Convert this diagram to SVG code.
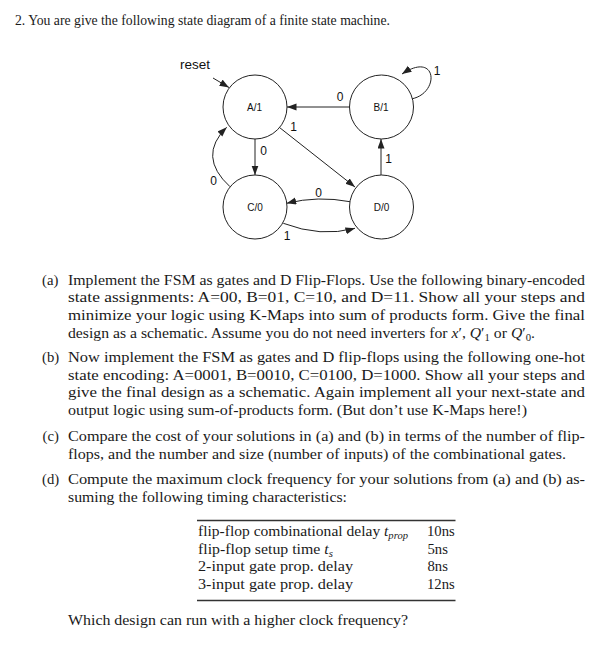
<svg xmlns="http://www.w3.org/2000/svg" width="611" height="651" viewBox="0 0 611 651">
<defs>
<marker id="arr" markerUnits="userSpaceOnUse" markerWidth="10" markerHeight="8" refX="9.5" refY="3.5" orient="auto">
<path d="M0,0 L9.5,3.5 L0,7 z" fill="#222"/>
</marker>
<style>
.st{fill:#fff;stroke:#222;stroke-width:1}
.sl{font-family:"Liberation Sans",Arial,sans-serif;font-size:10px;fill:#111;text-anchor:middle}
.el{font-family:"Liberation Sans",Arial,sans-serif;font-size:12px;fill:#111;text-anchor:middle}
.ed{fill:none;stroke:#222;stroke-width:1;marker-end:url(#arr)}
.tx{font-family:"Liberation Serif","Times New Roman",serif;font-size:14.7px;fill:#1a1a1a}
.it{font-style:italic}
.rule{stroke:#333;stroke-width:1.5}
</style>
</defs>
<rect width="611" height="651" fill="#fff"/>

<text class="tx" x="15" y="24.5" textLength="375" lengthAdjust="spacingAndGlyphs">2. You are give the following state diagram of a finite state machine.</text>

<!-- diagram -->
<text x="180" y="69" font-family="'Liberation Sans',Arial,sans-serif" font-size="13.5" fill="#111">reset</text>
<g id="edges">
<line class="ed" x1="213" y1="78" x2="229" y2="87.5"/>
<line class="ed" x1="350" y1="107" x2="287" y2="107"/>
<line class="ed" x1="279.5" y1="127.5" x2="355" y2="187"/>
<line class="ed" x1="255" y1="139" x2="255" y2="175"/>
<line class="ed" x1="381" y1="175.5" x2="381" y2="139"/>
<path class="ed" d="M350,201.7 Q318,195.5 286.7,203.3"/>
<path class="ed" d="M283.3,223.3 Q320.8,237.6 355,228.3"/>
<path class="ed" d="M230,186.7 Q197,156.4 226.7,127.3"/>
<path class="ed" d="M411,99 C440,94 438,50 402,74"/>
</g>
<g id="A"><circle class="st" cx="255" cy="107" r="32"/><text class="sl" x="254.5" y="110.5">A/1</text></g>
<g id="B"><circle class="st" cx="381.5" cy="107" r="32"/><text class="sl" x="381" y="110.5">B/1</text></g>
<g id="C"><circle class="st" cx="255" cy="207" r="32"/><text class="sl" x="255" y="210.5">C/0</text></g>
<g id="D"><circle class="st" cx="381.5" cy="207" r="32"/><text class="sl" x="381.5" y="210.5">D/0</text></g>
<g id="edge-labels">
<text class="el" x="340" y="101">0</text>
<text class="el" x="293.5" y="130.5">1</text>
<text class="el" x="263.5" y="154.5">0</text>
<text class="el" x="388.5" y="162.5">1</text>
<text class="el" x="213.5" y="184.5">0</text>
<text class="el" x="318.5" y="197">0</text>
<text class="el" x="287" y="239.5">1</text>
<text class="el" x="437" y="75">1</text>
</g>

<!-- (a) -->
<text class="tx" x="42" y="284.5">(a)</text>
<text class="tx" x="68" y="284.5" textLength="517" lengthAdjust="spacingAndGlyphs">Implement the FSM as gates and D Flip-Flops. Use the following binary-encoded</text>
<text class="tx" x="68" y="302.2" textLength="517" lengthAdjust="spacingAndGlyphs">state assignments: A=00, B=01, C=10, and D=11. Show all your steps and</text>
<text class="tx" x="68" y="320" textLength="517" lengthAdjust="spacingAndGlyphs">minimize your logic using K-Maps into sum of products form. Give the final</text>
<text class="tx" x="68" y="337.7" textLength="467" lengthAdjust="spacingAndGlyphs">design as a schematic. Assume you do not need inverters for <tspan class="it">x</tspan>′, <tspan class="it">Q</tspan>′<tspan font-size="10" dy="3">1</tspan><tspan dy="-3"> or </tspan><tspan class="it">Q</tspan>′<tspan font-size="10" dy="3">0</tspan><tspan dy="-3">.</tspan></text>

<!-- (b) -->
<text class="tx" x="42" y="362">(b)</text>
<text class="tx" x="68" y="362" textLength="517" lengthAdjust="spacingAndGlyphs">Now implement the FSM as gates and D flip-flops using the following one-hot</text>
<text class="tx" x="68" y="379.7" textLength="517" lengthAdjust="spacingAndGlyphs">state encoding: A=0001, B=0010, C=0100, D=1000. Show all your steps and</text>
<text class="tx" x="68" y="397.4" textLength="517" lengthAdjust="spacingAndGlyphs">give the final design as a schematic. Again implement all your next-state and</text>
<text class="tx" x="68" y="415.1" textLength="459" lengthAdjust="spacingAndGlyphs">output logic using sum-of-products form. (But don’t use K-Maps here!)</text>

<!-- (c) -->
<text class="tx" x="42.5" y="441">(c)</text>
<text class="tx" x="68" y="441" textLength="517" lengthAdjust="spacingAndGlyphs">Compare the cost of your solutions in (a) and (b) in terms of the number of flip-</text>
<text class="tx" x="68" y="458.7" textLength="498" lengthAdjust="spacingAndGlyphs">flops, and the number and size (number of inputs) of the combinational gates.</text>

<!-- (d) -->
<text class="tx" x="42" y="484">(d)</text>
<text class="tx" x="68" y="484" textLength="517" lengthAdjust="spacingAndGlyphs">Compute the maximum clock frequency for your solutions from (a) and (b) as-</text>
<text class="tx" x="68" y="501.7" textLength="279" lengthAdjust="spacingAndGlyphs">suming the following timing characteristics:</text>

<!-- table -->
<line class="rule" x1="197" y1="520.5" x2="455.5" y2="520.5"/>
<text class="tx" x="198" y="536" textLength="210" lengthAdjust="spacingAndGlyphs">flip-flop combinational delay <tspan class="it">t</tspan><tspan class="it" font-size="10" dy="3">prop</tspan></text>
<text class="tx" x="427" y="536">10ns</text>
<text class="tx" x="198" y="553.7" textLength="135" lengthAdjust="spacingAndGlyphs">flip-flop setup time <tspan class="it">t</tspan><tspan class="it" font-size="10" dy="3">s</tspan></text>
<text class="tx" x="427.5" y="553.7">5ns</text>
<text class="tx" x="198" y="571.4" textLength="155" lengthAdjust="spacingAndGlyphs">2-input gate prop. delay</text>
<text class="tx" x="427.5" y="571.4">8ns</text>
<text class="tx" x="198" y="589" textLength="155" lengthAdjust="spacingAndGlyphs">3-input gate prop. delay</text>
<text class="tx" x="427" y="589">12ns</text>
<line class="rule" x1="197" y1="600.5" x2="455.5" y2="600.5"/>

<text class="tx" x="68" y="625" textLength="340" lengthAdjust="spacingAndGlyphs">Which design can run with a higher clock frequency?</text>
</svg>
